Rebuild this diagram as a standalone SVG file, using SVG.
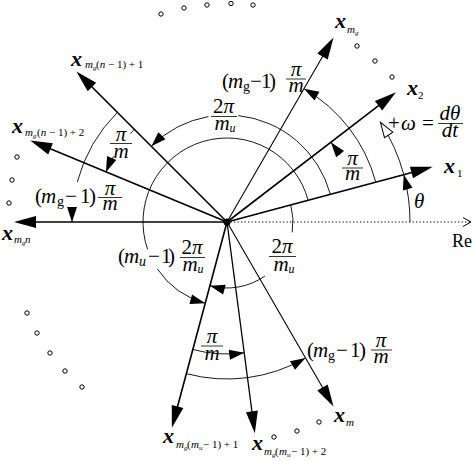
<svg xmlns="http://www.w3.org/2000/svg" width="474" height="461" viewBox="0 0 474 461" font-family="'Liberation Serif', 'DejaVu Serif', serif">
<style>
text, tspan{font-family:'Liberation Serif','DejaVu Serif',serif;fill:#000}
.bx{font-weight:bold;font-style:italic;font-size:22px}
.s{font-size:11px}
.si{font-size:11px;font-style:italic}
.ss{font-size:7px;font-style:italic}
.m{font-size:21px}
.i{font-style:italic}
.v{stroke:#000;fill:none;stroke-width:1.6;marker-end:url(#ah)}
.vt{stroke-width:1.1}
.arc{stroke:#000;fill:none;stroke-width:0.9}
.bar{stroke:#000;stroke-width:0.8}
.dot{fill:#fff;stroke:#000;stroke-width:1}
</style>
<defs>
<marker id="ah" markerUnits="userSpaceOnUse" orient="auto" overflow="visible" markerWidth="1" markerHeight="1" refX="0" refY="0"><path d="M8,0 L-14,-6 L-14,6 Z" fill="#000"/></marker>
<marker id="aa" markerUnits="userSpaceOnUse" orient="auto" overflow="visible" markerWidth="1" markerHeight="1" refX="0" refY="0"><path d="M0,0 L-15,-5 L-15,5 Z" fill="#000"/></marker>
<marker id="ao" markerUnits="userSpaceOnUse" orient="auto" overflow="visible" markerWidth="1" markerHeight="1" refX="0" refY="0"><path d="M0,0 L-15,-5 L-15,5 Z" fill="#fff" stroke="#000" stroke-width="1"/></marker>
<marker id="chev" markerUnits="userSpaceOnUse" orient="auto" overflow="visible" markerWidth="1" markerHeight="1" refX="0" refY="0"><path d="M-8,-4.5 L0,0 L-8,4.5" fill="none" stroke="#000" stroke-width="1"/></marker>
</defs>
<rect width="474" height="461" fill="#fff"/>

<g id="connectors">
<line x1="227" y1="222" x2="471" y2="222" stroke="#000" stroke-width="1" stroke-dasharray="1.3 2.2" marker-end="url(#chev)"/>
<path class="arc" d="M330.35,194.31 A107,107 0 0,0 238.2,115.6"/>
<path class="arc" d="M208.4,116.6 A107,107 0 0,0 151.34,146.34" marker-end="url(#aa)"/>
<path class="arc" d="M375.75,182.14 A154,154 0 0,0 304,88.63" marker-end="url(#aa)"/>
<path class="arc" d="M339.3,154.5 A131,131 0 0,0 330.9,142.3" marker-end="url(#aa)"/>
<path class="arc" d="M410,222 A183,183 0 0,0 403.77,174.64" marker-end="url(#aa)"/>
<path class="arc" d="M403.77,174.64 A183,183 0 0,0 380.5,122.3" marker-end="url(#ao)"/>
<path class="arc" d="M308.14,200.26 A84,84 0 1,0 147.58,249.35"/>
<path class="arc" d="M157.36,268.97 A84,84 0 0,0 205.26,303.14" marker-end="url(#aa)"/>
<path class="arc" d="M117.4,112.4 A155,155 0 0,0 77.3,181.9"/>
<path class="arc" d="M72.4,211.2 A155,155 0 0,0 72,222" marker-end="url(#aa)"/>
<path class="arc" d="M134.4,129.4 A131,131 0 0,0 130.2,133.6"/>
<path class="arc" d="M113.5,156.5 A131,131 0 0,0 106,171.9" marker-end="url(#aa)"/>
<path class="arc" d="M290.75,204.92 A66,66 0 0,1 292.19,232.32"/>
<path class="arc" d="M264.86,276.06 A66,66 0 0,1 209.92,285.75" marker-end="url(#aa)"/>
<path class="arc" d="M192.84,349.5 A132,132 0 0,0 244.23,352.87" marker-end="url(#aa)"/>
<path class="arc" d="M186.37,373.65 A157,157 0 0,0 305.5,357.97" marker-end="url(#aa)"/>
</g>

<g id="vectors">
<line id="v-x1" class="v" x1="227" y1="222" x2="425" y2="168.94"/>
<line id="v-x2" class="v" x1="227" y1="222" x2="389.64" y2="97.2"/>
<line id="v-xmg" class="v vt" x1="227" y1="222" x2="329.5" y2="44.46"/>
<line id="v-xn1" class="v" x1="227" y1="222" x2="82.04" y2="77.04"/>
<line id="v-xn2" class="v" x1="227" y1="222" x2="37.6" y2="143.55"/>
<line id="v-xmgn" class="v" x1="227" y1="222" x2="22" y2="222"/>
<line id="v-xu1" class="v" x1="227" y1="222" x2="173.94" y2="420"/>
<line id="v-xu2" class="v" style="stroke-width:1.3" x1="227" y1="222" x2="253.76" y2="425.25"/>
<line id="v-xm" class="v vt" x1="227" y1="222" x2="329.5" y2="399.54"/>
</g>

<g id="origin"><circle cx="227" cy="222" r="3.6" fill="#000"/></g>

<g id="ellipsis-dots">
<circle class="dot" cx="161" cy="14" r="2.2"/>
<circle class="dot" cx="184" cy="8" r="2.2"/>
<circle class="dot" cx="207" cy="5" r="2.2"/>
<circle class="dot" cx="231" cy="3.5" r="2.2"/>
<circle class="dot" cx="253" cy="5" r="2.2"/>
<circle class="dot" cx="357" cy="46" r="2.2"/>
<circle class="dot" cx="375" cy="61" r="2.2"/>
<circle class="dot" cx="392" cy="77" r="2.2"/>
<circle class="dot" cx="17" cy="157" r="2.2"/>
<circle class="dot" cx="12" cy="180" r="2.2"/>
<circle class="dot" cx="9" cy="203" r="2.2"/>
<circle class="dot" cx="27" cy="313" r="2.2"/>
<circle class="dot" cx="37" cy="333" r="2.2"/>
<circle class="dot" cx="50" cy="353" r="2.2"/>
<circle class="dot" cx="65" cy="371" r="2.2"/>
<circle class="dot" cx="82" cy="387" r="2.2"/>
<circle class="dot" cx="274" cy="437" r="2.2"/>
<circle class="dot" cx="297" cy="431" r="2.2"/>
<circle class="dot" cx="319" cy="422" r="2.2"/>
</g>

<g id="label-x1"><text><tspan class="bx" x="444" y="173">x</tspan><tspan class="s" x="457" y="177">1</tspan></text></g>
<g id="label-x2"><text><tspan class="bx" x="407" y="95">x</tspan><tspan class="s" x="418" y="99">2</tspan></text></g>
<g id="label-xmg"><text><tspan class="bx" x="335" y="28">x</tspan><tspan class="si" x="347" y="33">m</tspan><tspan class="ss" x="355" y="35">g</tspan></text></g>
<g id="label-xn1"><text><tspan class="bx" x="71" y="66">x</tspan><tspan class="si" x="85" y="68">m</tspan><tspan class="ss" x="93" y="70">g</tspan><tspan class="s" x="96" y="68">(<tspan class="i">n</tspan> − 1) + 1</tspan></text></g>
<g id="label-xn2"><text><tspan class="bx" x="12" y="133">x</tspan><tspan class="si" x="25" y="136">m</tspan><tspan class="ss" x="33" y="138">g</tspan><tspan class="s" x="37" y="136">(<tspan class="i">n</tspan> − 1) + 2</tspan></text></g>
<g id="label-xmgn"><text><tspan class="bx" x="2" y="240">x</tspan><tspan class="si" x="14" y="243">m</tspan><tspan class="ss" x="22" y="245">g</tspan><tspan class="si" x="25" y="243">n</tspan></text></g>
<g id="label-xu1"><text><tspan class="bx" x="163" y="443">x</tspan><tspan class="si" x="176" y="448">m</tspan><tspan class="ss" x="184" y="450">g</tspan><tspan class="s" x="187" y="448">(</tspan><tspan class="si" x="191" y="448">m</tspan><tspan class="ss" x="199" y="450">u</tspan><tspan class="s" x="203" y="448">− 1) + 1</tspan></text></g>
<g id="label-xu2"><text><tspan class="bx" x="252" y="450">x</tspan><tspan class="si" x="264" y="455">m</tspan><tspan class="ss" x="272" y="457">g</tspan><tspan class="s" x="275" y="455">(</tspan><tspan class="si" x="279" y="455">m</tspan><tspan class="ss" x="287" y="457">u</tspan><tspan class="s" x="291" y="455">− 1) + 2</tspan></text></g>
<g id="label-xm"><text><tspan class="bx" x="334" y="422">x</tspan><tspan class="si" x="346" y="426">m</tspan></text></g>
<g id="label-re"><text x="452" y="247" font-size="18">Re</text></g>
<g id="label-theta"><text x="414" y="208" class="m i" font-size="21">θ</text></g>

<g id="label-omega">
<text class="m" y="130"><tspan x="388">+</tspan><tspan x="401" class="i">ω</tspan><tspan x="422">=</tspan></text>
<text class="m i" x="450" y="120" text-anchor="middle">dθ</text>
<line class="bar" x1="438" y1="123.5" x2="463" y2="123.5"/>
<text class="m i" x="450" y="137" text-anchor="middle">dt</text>
</g>

<g id="label-top-mg">
<text class="m" y="88"><tspan x="222">(</tspan><tspan x="228" class="i">m</tspan><tspan x="243" y="91" font-size="14">g</tspan><tspan x="250" y="88">−</tspan><tspan x="261">1</tspan><tspan x="269">)</tspan></text>
<text class="m i" x="296" y="76" text-anchor="middle">π</text>
<line class="bar" x1="286" y1="79" x2="306" y2="79"/>
<text class="m i" x="296" y="92" text-anchor="middle">m</text>
</g>

<g id="label-top-2pi">
<text class="m" x="223.5" y="113" text-anchor="middle">2<tspan class="i">π</tspan></text>
<line class="bar" x1="211" y1="116.5" x2="237" y2="116.5"/>
<text class="m i" x="225" y="130" text-anchor="middle">m<tspan font-size="12" dy="2">u</tspan></text>
</g>

<g id="label-pi-right">
<text class="m i" x="352.5" y="165" text-anchor="middle">π</text>
<line class="bar" x1="342" y1="168" x2="363" y2="168"/>
<text class="m i" x="352.5" y="180" text-anchor="middle">m</text>
</g>

<g id="label-pi-left">
<text class="m i" x="121" y="141" text-anchor="middle">π</text>
<line class="bar" x1="110" y1="143.5" x2="132" y2="143.5"/>
<text class="m i" x="121" y="158" text-anchor="middle">m</text>
</g>

<g id="label-left-mg">
<text class="m" y="203"><tspan x="35">(</tspan><tspan x="41" class="i">m</tspan><tspan x="57" y="206" font-size="14">g</tspan><tspan x="65" y="203">−</tspan><tspan x="80">1</tspan><tspan x="89">)</tspan></text>
<text class="m i" x="110" y="195" text-anchor="middle">π</text>
<line class="bar" x1="98" y1="197.5" x2="122" y2="197.5"/>
<text class="m i" x="110" y="210" text-anchor="middle">m</text>
</g>

<g id="label-left-mu">
<text class="m" y="263"><tspan x="118">(</tspan><tspan x="124" class="i">m</tspan><tspan x="139" y="266" font-size="14" class="i">u</tspan><tspan x="148" y="263">−</tspan><tspan x="161">1</tspan><tspan x="168">)</tspan></text>
<text class="m" x="192" y="254" text-anchor="middle">2<tspan class="i">π</tspan></text>
<line class="bar" x1="180" y1="257.5" x2="205" y2="257.5"/>
<text class="m i" x="193" y="271" text-anchor="middle">m<tspan font-size="12" dy="2">u</tspan></text>
</g>

<g id="label-right-2pi">
<text class="m" x="282" y="253" text-anchor="middle">2<tspan class="i">π</tspan></text>
<line class="bar" x1="269" y1="256.5" x2="296" y2="256.5"/>
<text class="m i" x="284" y="271" text-anchor="middle">m<tspan font-size="12" dy="2">u</tspan></text>
</g>

<g id="label-pi-bottom">
<text class="m i" x="212" y="343" text-anchor="middle">π</text>
<line class="bar" x1="201" y1="346" x2="223" y2="346"/>
<text class="m i" x="212" y="360" text-anchor="middle">m</text>
</g>

<g id="label-bottom-mg">
<text class="m" y="357"><tspan x="307">(</tspan><tspan x="313" class="i">m</tspan><tspan x="328" y="360" font-size="14">g</tspan><tspan x="336" y="357">−</tspan><tspan x="350">1</tspan><tspan x="359">)</tspan></text>
<text class="m i" x="381" y="347" text-anchor="middle">π</text>
<line class="bar" x1="371" y1="350" x2="392" y2="350"/>
<text class="m i" x="381" y="363" text-anchor="middle">m</text>
</g>
</svg>
